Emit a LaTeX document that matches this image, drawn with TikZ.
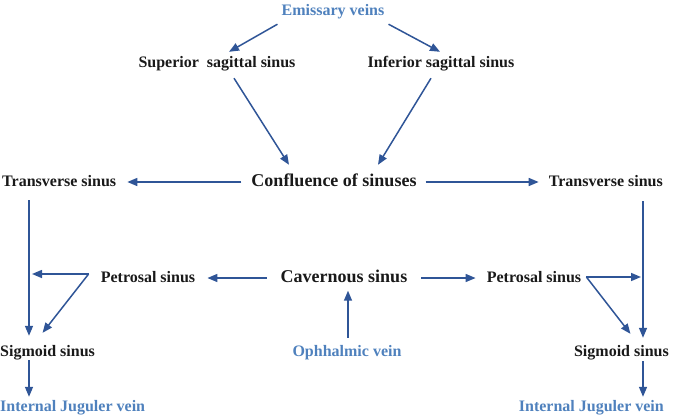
\documentclass[tikz,border=0pt]{standalone}
\usepackage{fontspec}
\setmainfont{Liberation Serif}
\usetikzlibrary{arrows.meta}
\definecolor{arrblue}{HTML}{2F5597}
\definecolor{veinblue}{HTML}{4F81BD}
\tikzset{
  sinus/.style={inner sep=0pt, text height=11pt, text depth=3pt,
                font=\fontsize{16}{18}\selectfont\bfseries, text=black!90},
  bigsinus/.style={sinus, text height=13pt, text depth=4pt,
                   font=\fontsize{18}{20}\selectfont\bfseries},
  vein/.style={sinus, text=veinblue},
  arr/.style={-{Triangle[length=10pt, width=8pt]}, line width=1.5pt, arrblue},
}
\begin{document}
\begin{tikzpicture}[x=1pt, y=-1pt]
  \useasboundingbox (0,0) rectangle (685,416);
  %% Top
  \node[vein] (ev) at (333,11) {Emissary veins};
  \node[sinus] (sss) at (217,63) {Superior\ \ sagittal sinus};
  \node[sinus] (iss) at (441,63) {Inferior sagittal sinus};
  \node[bigsinus] (cs) at (334,182) {Confluence of sinuses};
  \node[sinus, anchor=west] (tsL) at (2,182) {Transverse sinus};
  \node[sinus, anchor=east] (tsR) at (663,182) {Transverse sinus};
  \draw[arr] ([xshift=-4pt,yshift=-6pt]ev.south west) -- ([xshift=12pt,yshift=4pt]sss.north);
  \draw[arr] ([xshift=4pt,yshift=-6pt]ev.south east) -- ([xshift=-1pt,yshift=4pt]iss.north);
  \draw[arr] ([xshift=17pt,yshift=-8pt]sss.south) -- ([xshift=-45pt,yshift=8.5pt]cs.north);
  \draw[arr] ([xshift=-10pt,yshift=-8pt]iss.south) -- ([xshift=44pt,yshift=8.5pt]cs.north);
  \draw[arr] ([xshift=-10pt]cs.west) -- ([xshift=11pt]tsL.east);
  \draw[arr] ([xshift=9pt]cs.east) -- ([xshift=-10pt]tsR.west);
  %% Middle
  \node[bigsinus] (cav) at (344,278) {Cavernous sinus};
  \node[sinus] (psL) at (148,278) {Petrosal sinus};
  \node[sinus] (psR) at (534,278) {Petrosal sinus};
  \node[vein] (ov) at (347,352) {Ophhalmic vein};
  \draw[arr] ([xshift=-14pt]cav.west) -- ([xshift=12pt]psL.east);
  \draw[arr] ([xshift=14pt]cav.east) -- ([xshift=-11pt]psR.west);
  \draw[arr] ([xshift=1pt,yshift=7pt]ov.north) -- ([xshift=1pt,yshift=-4pt]ov.north |- cav.south);
  %% Bottom
  \node[sinus, anchor=west] (ssL) at (0,352) {Sigmoid sinus};
  \node[sinus, anchor=east] (ssR) at (669,352) {Sigmoid sinus};
  \node[vein, anchor=west] (ijL) at (0,407) {Internal Juguler vein};
  \node[vein, anchor=east] (ijR) at (664,407) {Internal Juguler vein};
  \coordinate (colL) at (29,0);
  \coordinate (colR) at (643,0);
  \coordinate (jL) at (psL.west -| colL);
  \coordinate (jR) at (psR.east -| colR);
  \draw[arr] ([yshift=-11pt]tsL.south -| colL) -- ([yshift=9pt]ssL.north -| colL);
  \draw[arr] ([yshift=-12pt]tsR.south -| colR) -- ([yshift=7pt]ssR.north -| colR);
  \draw[arr] ([xshift=-12pt,yshift=4pt]psL.west) -- ([xshift=3pt,yshift=4pt]jL);
  \draw[arr] ([xshift=-12pt,yshift=4pt]psL.west) -- ([xshift=-5pt,yshift=12pt]ssL.north);
  \draw[arr] ([xshift=5pt,yshift=1pt]psR.east) -- ([xshift=-2pt,yshift=1pt]jR);
  \draw[arr] ([xshift=5pt,yshift=1pt]psR.east) -- ([xshift=9pt,yshift=11pt]ssR.north);
  \draw[arr] ([yshift=-1pt]ssL.south -| colL) -- ([yshift=3pt]ijL.north -| colL);
  \draw[arr] ([yshift=-2pt]ssR.south -| colR) -- ([yshift=3pt]ijR.north -| colR);
\end{tikzpicture}
\end{document}
